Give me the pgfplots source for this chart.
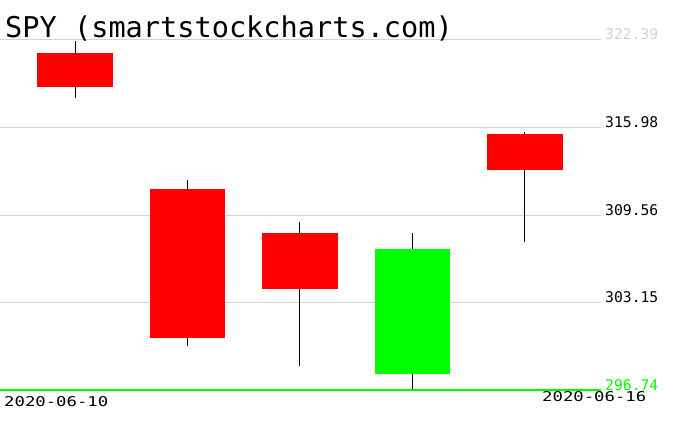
\documentclass[border=0pt]{standalone}
\usepackage{fontspec}
\usepackage{pgfplots}
\pgfplotsset{compat=1.18}
\newfontfamily\chartmono{DejaVu Sans Mono}
\newfontfamily\datemono[FakeStretch=1.28]{DejaVu Sans Mono}
\definecolor{gridgray}{HTML}{D3D3D3}
\definecolor{candlered}{HTML}{FF0000}
\definecolor{candlegreen}{HTML}{00FF00}
\begin{document}
\begin{tikzpicture}
\path[use as bounding box] (0pt,0pt) rectangle (676pt,431pt);
\begin{axis}[
    at={(0pt,41pt)}, anchor=south west,
    scale only axis,
    width=601pt, height=350pt,
    xmin=-0.667, xmax=4.676,
    ymin=296.74, ymax=322.39,
    axis line style={draw=none},
    xtick=\empty,
    ytick={296.74,303.15,309.56,315.98,322.39},
    yticklabels={\textcolor{candlegreen}{296.74},303.15,309.56,315.98,\textcolor{gridgray}{322.39}},
    yticklabel pos=right,
    yticklabel style={anchor=base west, inner sep=0pt, xshift=4pt,
        font=\chartmono\fontsize{14.7}{16}\selectfont},
    major tick length=0pt,
    ymajorgrids,
    grid style={gridgray, line width=1pt},
    clip=false,
]
% OHLC, 2020-06-10 .. 2020-06-16
% wicks (high - low)
\addplot[black, line width=1pt] coordinates {(0,322.32) (0,318.16)};
\addplot[black, line width=1pt] coordinates {(1,312.13) (1,299.99)};
\addplot[black, line width=1pt] coordinates {(2,309.05) (2,298.52)};
\addplot[black, line width=1pt] coordinates {(3,308.25) (3,296.74)};
\addplot[black, line width=1pt] coordinates {(4,315.65) (4,307.59)};
% bodies (open - close)
\addplot[fill=candlered, draw=none] coordinates {(-0.336,321.46) (0.336,321.46) (0.336,318.97) (-0.336,318.97)} -- cycle;
\addplot[fill=candlered, draw=none] coordinates {(0.664,311.47) (1.336,311.47) (1.336,300.57) (0.664,300.57)} -- cycle;
\addplot[fill=candlered, draw=none] coordinates {(1.664,308.25) (2.336,308.25) (2.336,304.14) (1.664,304.14)} -- cycle;
\addplot[fill=candlegreen, draw=none] coordinates {(2.664,297.93) (3.336,297.93) (3.336,307.07) (2.664,307.07)} -- cycle;
\addplot[fill=candlered, draw=none] coordinates {(3.664,315.50) (4.336,315.50) (4.336,312.86) (3.664,312.86)} -- cycle;
\draw[candlegreen, line width=1.3pt] (rel axis cs:0,0) -- (rel axis cs:1,0);
\end{axis}
\node[anchor=base west, inner sep=0pt, font=\chartmono\fontsize{28.6}{30}\selectfont]
    at (5pt,393.7pt) {SPY (smartstockcharts.com)};
\node[anchor=base west, inner sep=0pt, font=\datemono\fontsize{13.5}{15}\selectfont]
    at (4pt,25pt) {2020-06-10};
\node[anchor=base west, inner sep=0pt, font=\datemono\fontsize{13.5}{15}\selectfont]
    at (542pt,29.7pt) {2020-06-16};
\end{tikzpicture}
\end{document}
